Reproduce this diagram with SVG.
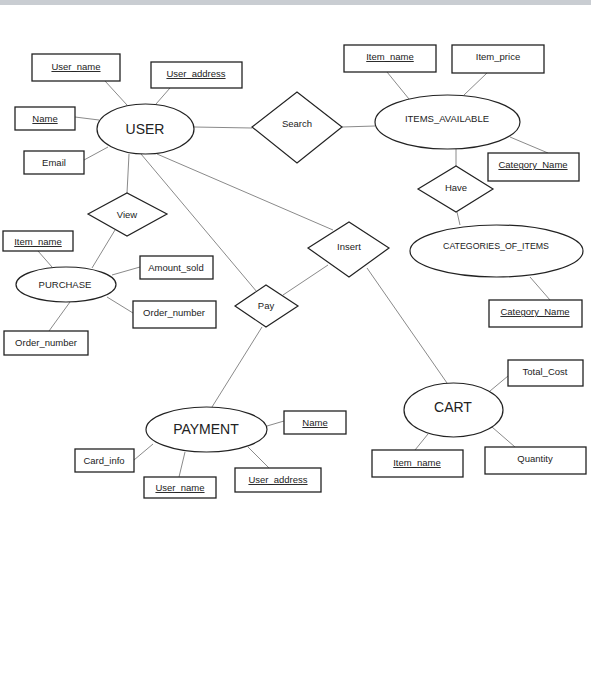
<svg xmlns="http://www.w3.org/2000/svg" width="591" height="700" viewBox="0 0 591 700">
<style>
.box{fill:#fff;stroke:#222;stroke-width:1.3}
.ent{fill:#fff;stroke:#222;stroke-width:1.2}
.rel{fill:#fff;stroke:#222;stroke-width:1.2}
.ln{stroke:#8a8a8a;stroke-width:1;fill:none}
text{font-family:"Liberation Sans",Arial,sans-serif;fill:#222;text-anchor:middle}
.s{font-size:9.5px}
.u{text-decoration:underline}
.big{font-size:14px}
</style>
<rect x="0" y="0" width="591" height="5" fill="#c9cdd2"/>
<g id="connectors">
<line class="ln" x1="105" y1="81" x2="127" y2="105"/>
<line class="ln" x1="170" y1="88" x2="156" y2="104"/>
<line class="ln" x1="75" y1="117" x2="99" y2="120"/>
<line class="ln" x1="84" y1="160" x2="108" y2="147"/>
<line class="ln" x1="194" y1="127" x2="252" y2="128"/>
<line class="ln" x1="342" y1="127" x2="375" y2="126"/>
<line class="ln" x1="387" y1="72" x2="409" y2="99"/>
<line class="ln" x1="487" y1="73" x2="464" y2="95"/>
<line class="ln" x1="510" y1="137" x2="548" y2="153"/>
<line class="ln" x1="456" y1="149" x2="456" y2="166"/>
<line class="ln" x1="457" y1="212" x2="460" y2="225"/>
<line class="ln" x1="530" y1="277" x2="550" y2="300"/>
<line class="ln" x1="129" y1="154" x2="127" y2="193"/>
<line class="ln" x1="115" y1="230" x2="92" y2="268"/>
<line class="ln" x1="141" y1="154" x2="257" y2="292"/>
<line class="ln" x1="157" y1="154" x2="333" y2="230"/>
<line class="ln" x1="328" y1="265" x2="283" y2="295"/>
<line class="ln" x1="367" y1="268" x2="447" y2="383"/>
<line class="ln" x1="262" y1="327" x2="212" y2="407"/>
<line class="ln" x1="38" y1="251" x2="52" y2="267"/>
<line class="ln" x1="112" y1="275" x2="140" y2="267"/>
<line class="ln" x1="107" y1="297" x2="133" y2="313"/>
<line class="ln" x1="70" y1="302" x2="49" y2="331"/>
<line class="ln" x1="267" y1="426" x2="284" y2="421"/>
<line class="ln" x1="134" y1="460" x2="153" y2="444"/>
<line class="ln" x1="185" y1="452" x2="179" y2="477"/>
<line class="ln" x1="248" y1="447" x2="269" y2="468"/>
<line class="ln" x1="490" y1="391" x2="508" y2="376"/>
<line class="ln" x1="428" y1="434" x2="415" y2="450"/>
<line class="ln" x1="492" y1="427" x2="515" y2="447"/>
</g>
<g id="user"><ellipse class="ent" cx="145.5" cy="129" rx="48.5" ry="25"/><text class="big" x="145" y="134">USER</text></g>
<g id="user_name"><rect class="box" x="32" y="54" width="88" height="27"/><text class="s u" x="76" y="70">User_name</text></g>
<g id="user_address"><rect class="box" x="151" y="62" width="91" height="26"/><text class="s u" x="196" y="77">User_address</text></g>
<g id="name"><rect class="box" x="15" y="107" width="60" height="23"/><text class="s u" x="45" y="122">Name</text></g>
<g id="email"><rect class="box" x="24" y="151" width="60" height="23"/><text class="s" x="54" y="166">Email</text></g>
<g id="search"><polygon class="rel" points="252,127 297,92 342,127 297,163"/><text class="s" x="297" y="127">Search</text></g>
<g id="items_available"><ellipse class="ent" cx="447.5" cy="122" rx="72.5" ry="27"/><text class="s" x="447" y="122">ITEMS_AVAILABLE</text></g>
<g id="item_name1"><rect class="box" x="344" y="45" width="92" height="27"/><text class="s u" x="390" y="60">Item_name</text></g>
<g id="item_price"><rect class="box" x="452" y="45" width="92" height="28"/><text class="s" x="498" y="60">Item_price</text></g>
<g id="category_name1"><rect class="box" x="488" y="153" width="91" height="28"/><text class="s u" x="533" y="168">Category_Name</text></g>
<g id="have"><polygon class="rel" points="418,189 456,166 493,189 456,212"/><text class="s" x="456" y="191">Have</text></g>
<g id="categories"><ellipse class="ent" cx="496.5" cy="251" rx="86.5" ry="26"/><text class="s" x="496" y="249" style="font-size:8.8px">CATEGORIES_OF_ITEMS</text></g>
<g id="category_name2"><rect class="box" x="489" y="300" width="93" height="27"/><text class="s u" x="535" y="315">Category_Name</text></g>
<g id="view"><polygon class="rel" points="88,214 127,193 167,214 127,236"/><text class="s" x="127" y="218">View</text></g>
<g id="purchase"><ellipse class="ent" cx="66" cy="284.5" rx="50" ry="17.5"/><text class="s" x="65" y="288">PURCHASE</text></g>
<g id="item_name2"><rect class="box" x="3" y="231" width="70" height="20"/><text class="s u" x="38" y="245">Item_name</text></g>
<g id="amount_sold"><rect class="box" x="140" y="256" width="73" height="23"/><text class="s" x="176" y="271">Amount_sold</text></g>
<g id="order_number1"><rect class="box" x="133" y="301" width="83" height="27"/><text class="s" x="174" y="316">Order_number</text></g>
<g id="order_number2"><rect class="box" x="4" y="331" width="84" height="24"/><text class="s" x="46" y="346">Order_number</text></g>
<g id="pay"><polygon class="rel" points="235,306 266,285 298,306 266,327"/><text class="s" x="266" y="309">Pay</text></g>
<g id="insert"><polygon class="rel" points="308,248 349,222 389,248 349,277"/><text class="s" x="349" y="250">Insert</text></g>
<g id="payment"><ellipse class="ent" cx="206.5" cy="429.5" rx="60.5" ry="22.5"/><text class="big" x="206" y="434">PAYMENT</text></g>
<g id="pay_name"><rect class="box" x="284" y="411" width="62" height="23"/><text class="s u" x="315" y="426">Name</text></g>
<g id="card_info"><rect class="box" x="75" y="449" width="59" height="23"/><text class="s" x="104" y="464">Card_info</text></g>
<g id="pay_user_name"><rect class="box" x="144" y="477" width="72" height="21"/><text class="s u" x="180" y="491">User_name</text></g>
<g id="pay_user_address"><rect class="box" x="235" y="468" width="86" height="24"/><text class="s u" x="278" y="483">User_address</text></g>
<g id="cart"><ellipse class="ent" cx="453.5" cy="410" rx="49.5" ry="27"/><text class="big" x="453" y="412">CART</text></g>
<g id="total_cost"><rect class="box" x="508" y="360" width="75" height="26"/><text class="s" x="545" y="375">Total_Cost</text></g>
<g id="cart_item_name"><rect class="box" x="372" y="450" width="91" height="27"/><text class="s u" x="417" y="466">Item_name</text></g>
<g id="quantity"><rect class="box" x="485" y="447" width="101" height="27"/><text class="s" x="535" y="462">Quantity</text></g>
</svg>
